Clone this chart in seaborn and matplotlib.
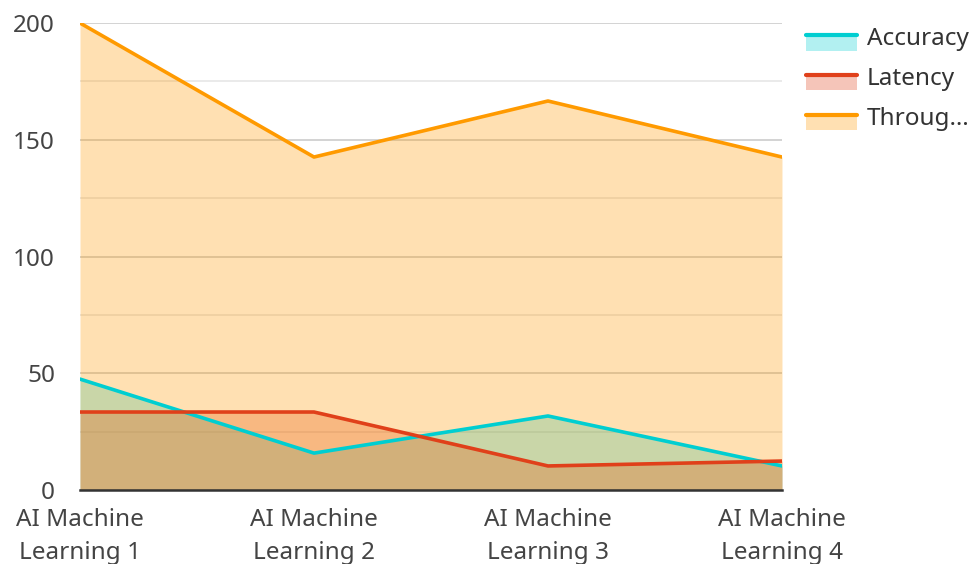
import matplotlib
matplotlib.use("Agg")
import matplotlib.pyplot as plt
import seaborn as sns
import pandas as pd
from matplotlib.legend_handler import HandlerBase
from matplotlib.patches import Rectangle
from matplotlib.lines import Line2D

# data
categories = ["AI Machine\nLearning 1", "AI Machine\nLearning 2",
              "AI Machine\nLearning 3", "AI Machine\nLearning 4"]
accuracy = [47.5, 15.8, 31.7, 10.3]
latency = [33.4, 33.4, 10.3, 12.4]
throughput = [200, 142.6, 166.6, 142.6]

series_names = ["Accuracy", "Latency", "Throughput"]
legend_labels = ["Accuracy", "Latency", "Throug\u2026"]
colors = ["#00CED1", "#E0401A", "#FF9A00"]

df = pd.DataFrame({"category": categories, "Accuracy": accuracy,
                   "Latency": latency, "Throughput": throughput})
df["x"] = range(len(df))

sns.set_theme(style="white")
plt.rcParams["font.family"] = ["Noto Sans", "DejaVu Sans"]

fig = plt.figure(figsize=(9.72, 5.64), dpi=100)
ax = fig.add_axes([0.0823, 0.1312, 0.7222, 0.828])

for name, col in zip(series_names, colors):
    ax.fill_between(df["x"], 0, df[name], color=col, alpha=0.3, lw=0, zorder=1)
for name, col in zip(series_names, colors):
    sns.lineplot(data=df, x="x", y=name, color=col, lw=2.6, ax=ax, zorder=3)

ax.set_xlim(0, len(df) - 1)
ax.set_ylim(0, 200)
ax.set_xticks(df["x"])
ax.set_xticklabels(categories)
ax.set_yticks([0, 50, 100, 150, 200])
ax.set_yticks([25, 75, 125, 175], minor=True)
ax.grid(axis="y", which="major", color="#cccccc", lw=1.2, zorder=0)
ax.grid(axis="y", which="minor", color="#e6e6e6", lw=1.2, zorder=0)
ax.set_axisbelow(True)
ax.set_xlabel("")
ax.set_ylabel("")
for s in ["top", "right", "left"]:
    ax.spines[s].set_visible(False)
ax.spines["bottom"].set_color("#333333")
ax.spines["bottom"].set_linewidth(1.8)
ax.spines["bottom"].set_zorder(5)
ax.tick_params(axis="both", which="both", length=0, labelsize=17.5, colors="#444444")
ax.tick_params(axis="y", pad=18)
ax.tick_params(axis="x", pad=13)
for lbl in ax.get_xticklabels():
    lbl.set_linespacing(1.47)


class AreaHandler(HandlerBase):
    def create_artists(self, legend, orig_handle, xdescent, ydescent,
                       width, height, fontsize, trans):
        col = orig_handle.get_color()
        rect = Rectangle((-xdescent, -ydescent - 4), width, height - 1,
                         facecolor=col, alpha=0.3, lw=0, transform=trans)
        top = -ydescent + height - 5
        line = Line2D([-xdescent, -xdescent + width], [top, top],
                      color=col, lw=3, transform=trans)
        return [rect, line]


handles = [Line2D([], [], color=c) for c in colors]
leg = ax.legend(handles, legend_labels, handler_map={Line2D: AreaHandler()},
                loc="upper left", bbox_to_anchor=(1.003, 1.038), frameon=False,
                fontsize=17.5, handlelength=2.1, handleheight=0.7,
                handletextpad=0.4, labelspacing=0.65)
for t in leg.get_texts():
    t.set_color("#333333")

fig.savefig("out.png", dpi=100)
